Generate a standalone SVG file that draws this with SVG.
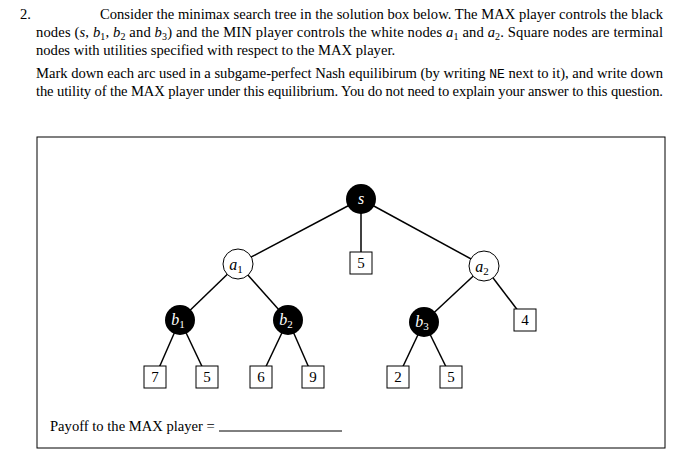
<svg xmlns="http://www.w3.org/2000/svg" width="693" height="462" viewBox="0 0 693 462">
<style>
text{font-family:"Liberation Serif",serif;font-size:14.6px;fill:#000}
.e{stroke:#000;stroke-width:1.5;fill:none}
.sq{fill:#fff;stroke:#000;stroke-width:1}
.bk{fill:#000}
.wh{fill:#fff;stroke:#000;stroke-width:1}
.nl{font-style:italic;font-size:16px;text-anchor:middle}
.wl{fill:#fff}
.c{text-anchor:middle;font-size:15px}
</style>
<rect width="693" height="462" fill="#fff"/>
<text x="20" y="19">2.</text>
<text x="100" y="19" textLength="563" lengthAdjust="spacing">Consider the minimax search tree in the solution box below. The MAX player controls the black</text>
<text x="36" y="37" textLength="627" lengthAdjust="spacing">nodes (<tspan font-style="italic">s</tspan>, <tspan font-style="italic">b</tspan><tspan font-size="10" dy="3">1</tspan><tspan dy="-3">, </tspan><tspan font-style="italic">b</tspan><tspan font-size="10" dy="3">2</tspan><tspan dy="-3"> and </tspan><tspan font-style="italic">b</tspan><tspan font-size="10" dy="3">3</tspan><tspan dy="-3">) and the MIN player controls the white nodes </tspan><tspan font-style="italic">a</tspan><tspan font-size="10" dy="3">1</tspan><tspan dy="-3"> and </tspan><tspan font-style="italic">a</tspan><tspan font-size="10" dy="3">2</tspan><tspan dy="-3">. Square nodes are terminal</tspan></text>
<text x="36" y="55">nodes with utilities specified with respect to the MAX player.</text>
<text x="36" y="78" textLength="627" lengthAdjust="spacing">Mark down each arc used in a subgame-perfect Nash equilibirum (by writing <tspan font-family="Liberation Mono" font-size="13">NE</tspan> next to it), and write down</text>
<text x="36" y="96" textLength="627" lengthAdjust="spacing">the utility of the MAX player under this equilibrium. You do not need to explain your answer to this question.</text>
<rect x="37" y="137" width="628" height="311" fill="none" stroke="#000" stroke-width="1"/>
<g id="connectors" class="e">
<line x1="361" y1="199" x2="238" y2="264"/><line x1="361" y1="199" x2="361" y2="263"/><line x1="361" y1="199" x2="484" y2="266"/>
<line x1="238" y1="264" x2="180" y2="320"/><line x1="238" y1="264" x2="288" y2="320"/>
<line x1="484" y1="266" x2="424" y2="322"/><line x1="484" y1="266" x2="525" y2="320"/>
<line x1="180" y1="320" x2="155" y2="377"/><line x1="180" y1="320" x2="207" y2="377"/>
<line x1="288" y1="320" x2="261" y2="377"/><line x1="288" y1="320" x2="313" y2="377"/>
<line x1="424" y1="322" x2="398" y2="377"/><line x1="424" y1="322" x2="451" y2="377"/>
</g>
<g id="s"><circle cx="361" cy="199" r="15" class="bk"/><text x="361" y="204" class="nl wl">s</text></g>
<g id="a1"><circle cx="238" cy="264" r="15" class="wh"/><text x="236" y="270" class="nl">a<tspan font-size="11" font-style="normal" dy="3">1</tspan></text></g>
<g id="a2"><circle cx="484" cy="266" r="15" class="wh"/><text x="482" y="272" class="nl">a<tspan font-size="11" font-style="normal" dy="3">2</tspan></text></g>
<g id="b1"><circle cx="180" cy="320" r="15" class="bk"/><text x="178" y="325" class="nl wl">b<tspan font-size="11" font-style="normal" dy="3">1</tspan></text></g>
<g id="b2"><circle cx="288" cy="320" r="15" class="bk"/><text x="286" y="325" class="nl wl">b<tspan font-size="11" font-style="normal" dy="3">2</tspan></text></g>
<g id="b3"><circle cx="424" cy="322" r="15" class="bk"/><text x="422" y="327" class="nl wl">b<tspan font-size="11" font-style="normal" dy="3">3</tspan></text></g>
<g id="t5a"><rect x="350" y="252" width="22" height="22" class="sq"/><text x="361" y="268" class="c">5</text></g>
<g id="t4"><rect x="514" y="309" width="22" height="22" class="sq"/><text x="525" y="325" class="c">4</text></g>
<g id="t7"><rect x="144" y="366" width="22" height="22" class="sq"/><text x="155" y="382" class="c">7</text></g>
<g id="t5b"><rect x="196" y="366" width="22" height="22" class="sq"/><text x="207" y="382" class="c">5</text></g>
<g id="t6"><rect x="250" y="366" width="22" height="22" class="sq"/><text x="261" y="382" class="c">6</text></g>
<g id="t9"><rect x="302" y="366" width="22" height="22" class="sq"/><text x="313" y="382" class="c">9</text></g>
<g id="t2"><rect x="387" y="366" width="22" height="22" class="sq"/><text x="398" y="382" class="c">2</text></g>
<g id="t5c"><rect x="440" y="366" width="22" height="22" class="sq"/><text x="451" y="382" class="c">5</text></g>
<text x="50" y="431">Payoff to the MAX player =</text>
<line x1="219" y1="431" x2="342" y2="431" stroke="#000" stroke-width="1"/>
</svg>
